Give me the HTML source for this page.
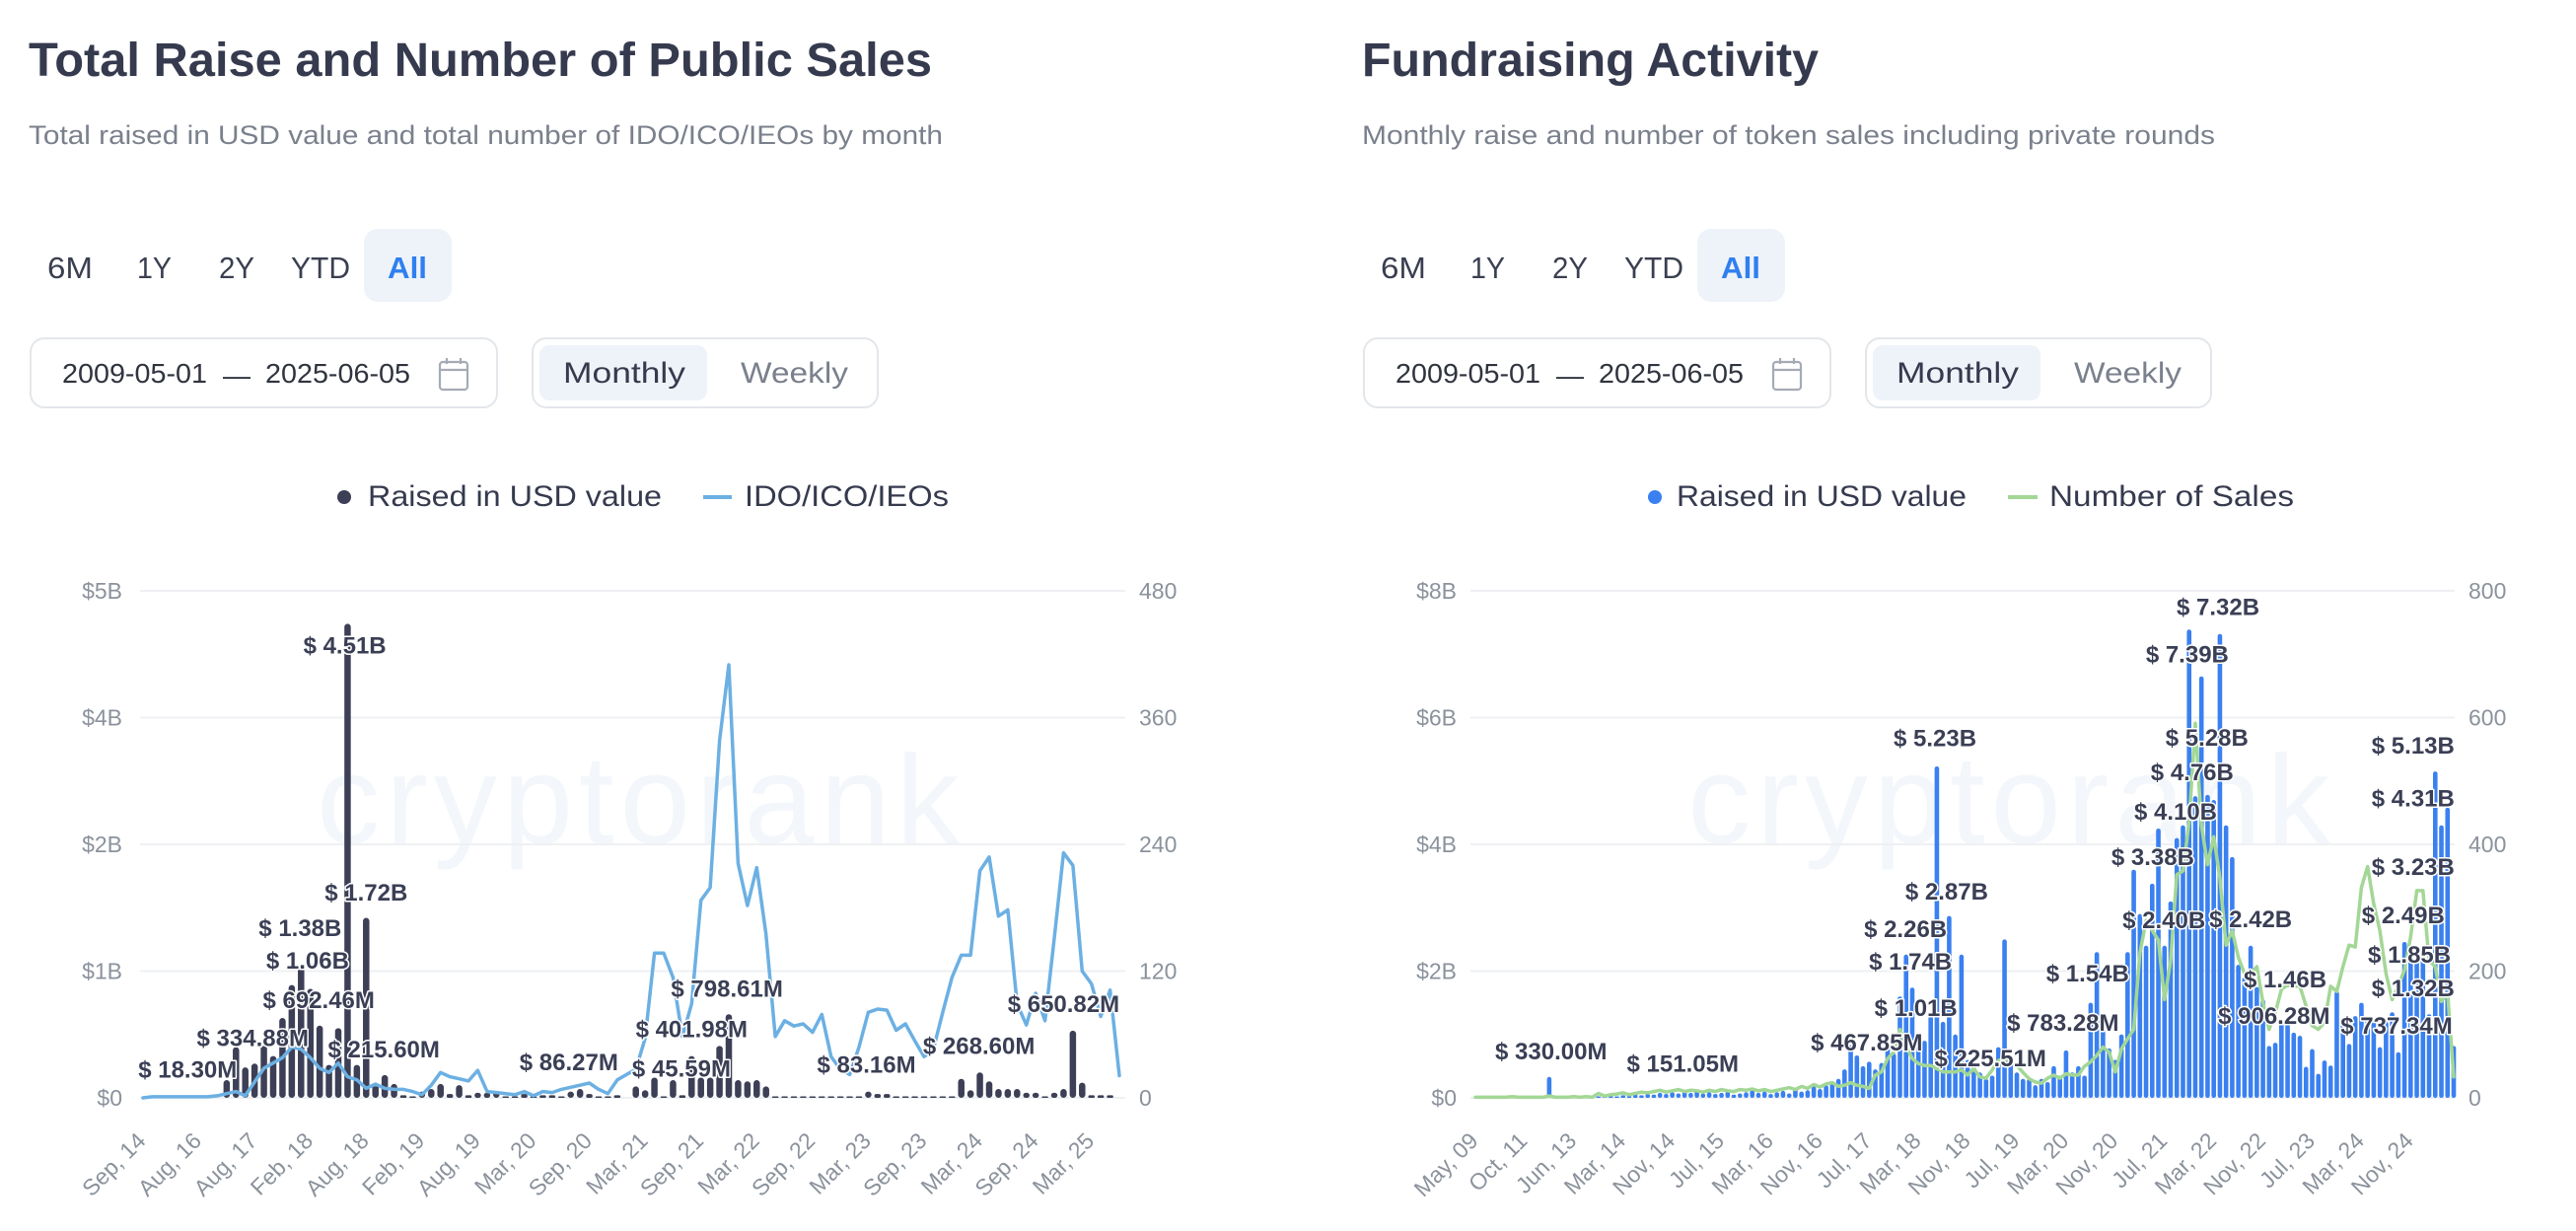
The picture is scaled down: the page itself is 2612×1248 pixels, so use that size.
<!DOCTYPE html>
<html><head><meta charset="utf-8">
<style>
html,body{margin:0;padding:0;background:#fff;}
svg{display:block;font-family:"Liberation Sans",sans-serif;}
</style></head>
<body>
<svg id="root" width="2612" height="1248" viewBox="0 0 2612 1248" xmlns="http://www.w3.org/2000/svg">
<rect x="0" y="0" width="2612" height="1248" fill="#ffffff"/>

<g>
  <text x="29" y="77" font-size="48" font-weight="bold" fill="#363a4e" textLength="916" lengthAdjust="spacingAndGlyphs">Total Raise and Number of Public Sales</text>
  <text x="29" y="146" font-size="27" fill="#7a808c" textLength="927" lengthAdjust="spacingAndGlyphs">Total raised in USD value and total number of IDO/ICO/IEOs by month</text>
  <rect x="369" y="232" width="89" height="74" rx="14" fill="#eef3f9"/>
  <text x="48" y="282" font-size="31" fill="#3a3f50" textLength="46" lengthAdjust="spacingAndGlyphs">6M</text>
  <text x="139" y="282" font-size="31" fill="#3a3f50" textLength="35" lengthAdjust="spacingAndGlyphs">1Y</text>
  <text x="222" y="282" font-size="31" fill="#3a3f50" textLength="36" lengthAdjust="spacingAndGlyphs">2Y</text>
  <text x="295" y="282" font-size="31" fill="#3a3f50" textLength="60" lengthAdjust="spacingAndGlyphs">YTD</text>
  <text x="393" y="282" font-size="31" fill="#2f7ff0" font-weight="bold" textLength="40" lengthAdjust="spacingAndGlyphs">All</text>
  <rect x="31" y="343" width="473" height="70" rx="14" fill="#fff" stroke="#e3e6ea" stroke-width="2"/>
  <text x="63" y="388" font-size="28" fill="#30343f" textLength="147" lengthAdjust="spacingAndGlyphs">2009-05-01</text>
  <text x="226" y="390" font-size="28" fill="#30343f">—</text>
  <text x="269" y="388" font-size="28" fill="#30343f" textLength="147" lengthAdjust="spacingAndGlyphs">2025-06-05</text>
  <g fill="none" stroke="#a5abb5" stroke-width="2.2">
    <rect x="446" y="367" width="28" height="28" rx="3"/>
    <line x1="446" y1="375" x2="474" y2="375"/>
    <line x1="453" y1="363" x2="453" y2="369"/>
    <line x1="467" y1="363" x2="467" y2="369"/>
  </g>
  <rect x="540" y="343" width="350" height="70" rx="14" fill="#fff" stroke="#e3e6ea" stroke-width="2"/>
  <rect x="547" y="350" width="170" height="56" rx="10" fill="#eef3f9"/>
  <text x="571" y="388" font-size="30" fill="#363a4e" textLength="124" lengthAdjust="spacingAndGlyphs">Monthly</text>
  <text x="751" y="388" font-size="30" fill="#7a808c" textLength="109" lengthAdjust="spacingAndGlyphs">Weekly</text>
  <circle cx="349" cy="504" r="7" fill="#3d3f56"/>
  <text x="373" y="513" font-size="30" fill="#363a4e" textLength="298" lengthAdjust="spacingAndGlyphs">Raised in USD value</text>
  <line x1="713" y1="504" x2="742" y2="504" stroke="#6cb0e3" stroke-width="4"/>
  <text x="755" y="513" font-size="30" fill="#363a4e" textLength="207" lengthAdjust="spacingAndGlyphs">IDO/ICO/IEOs</text>
</g>

<g transform="translate(1352,0)">
  <text x="29" y="77" font-size="48" font-weight="bold" fill="#363a4e" textLength="463" lengthAdjust="spacingAndGlyphs">Fundraising Activity</text>
  <text x="29" y="146" font-size="27" fill="#7a808c" textLength="865" lengthAdjust="spacingAndGlyphs">Monthly raise and number of token sales including private rounds</text>
  <rect x="369" y="232" width="89" height="74" rx="14" fill="#eef3f9"/>
  <text x="48" y="282" font-size="31" fill="#3a3f50" textLength="46" lengthAdjust="spacingAndGlyphs">6M</text>
  <text x="139" y="282" font-size="31" fill="#3a3f50" textLength="35" lengthAdjust="spacingAndGlyphs">1Y</text>
  <text x="222" y="282" font-size="31" fill="#3a3f50" textLength="36" lengthAdjust="spacingAndGlyphs">2Y</text>
  <text x="295" y="282" font-size="31" fill="#3a3f50" textLength="60" lengthAdjust="spacingAndGlyphs">YTD</text>
  <text x="393" y="282" font-size="31" fill="#2f7ff0" font-weight="bold" textLength="40" lengthAdjust="spacingAndGlyphs">All</text>
  <rect x="31" y="343" width="473" height="70" rx="14" fill="#fff" stroke="#e3e6ea" stroke-width="2"/>
  <text x="63" y="388" font-size="28" fill="#30343f" textLength="147" lengthAdjust="spacingAndGlyphs">2009-05-01</text>
  <text x="226" y="390" font-size="28" fill="#30343f">—</text>
  <text x="269" y="388" font-size="28" fill="#30343f" textLength="147" lengthAdjust="spacingAndGlyphs">2025-06-05</text>
  <g fill="none" stroke="#a5abb5" stroke-width="2.2">
    <rect x="446" y="367" width="28" height="28" rx="3"/>
    <line x1="446" y1="375" x2="474" y2="375"/>
    <line x1="453" y1="363" x2="453" y2="369"/>
    <line x1="467" y1="363" x2="467" y2="369"/>
  </g>
  <rect x="540" y="343" width="350" height="70" rx="14" fill="#fff" stroke="#e3e6ea" stroke-width="2"/>
  <rect x="547" y="350" width="170" height="56" rx="10" fill="#eef3f9"/>
  <text x="571" y="388" font-size="30" fill="#363a4e" textLength="124" lengthAdjust="spacingAndGlyphs">Monthly</text>
  <text x="751" y="388" font-size="30" fill="#7a808c" textLength="109" lengthAdjust="spacingAndGlyphs">Weekly</text>
  <circle cx="326" cy="504" r="7" fill="#3a80f0"/>
  <text x="348" y="513" font-size="30" fill="#363a4e" textLength="294" lengthAdjust="spacingAndGlyphs">Raised in USD value</text>
  <line x1="684" y1="504" x2="714" y2="504" stroke="#a3d795" stroke-width="4"/>
  <text x="726" y="513" font-size="30" fill="#363a4e" textLength="248" lengthAdjust="spacingAndGlyphs">Number of Sales</text>
</g>

<g id="leftChart"></g>
<g id="rightChart"></g>
</svg>

<script>
function monthsFrom(y, m, n) { // helper for category names only
  const nm = ["Jan","Feb","Mar","Apr","May","Jun","Jul","Aug","Sep","Oct","Nov","Dec"];
  const out = [];
  for (let k = 0; k < n; k++) { const t = m + k; out.push(nm[t % 12] + " " + String((y + Math.floor(t / 12)) % 100).padStart(2, "0")); }
  return out;
}
const leftCategories = ["Sep 14","Nov 14","Feb 15","Jun 15","Oct 15","Mar 16","Aug 16","Oct 16","Dec 16","Feb 17","Apr 17","Jun 17"]
  .concat(monthsFrom(2017, 7, 29)).concat(["Feb 20"]).concat(monthsFrom(2020, 2, 64));
const leftTickLabels = ["Sep, 14","Aug, 16","Aug, 17","Feb, 18","Aug, 18","Feb, 19","Aug, 19","Mar, 20","Sep, 20","Mar, 21","Sep, 21","Mar, 22","Sep, 22","Mar, 23","Sep, 23","Mar, 24","Sep, 24","Mar, 25"];
const leftTickIndex = [0,6,12,18,24,30,36,42,48,54,60,66,72,78,84,90,96,102];
const leftRaised = [0,0,0,0,0,0,0,0,0,
  0.14,0.40,0.24,0.27,0.41,0.33,0.63,0.89,1.04,0.86,0.57,0.26,0.55,4.74,0.26,1.42,
  0.12,0.18,0.11,0.02,0.01,0.05,0.07,0.11,0.03,0.1,0.02,0.04,0.04,0.05,0.01,0.01,0.03,0.01,0.02,0.02,
  0.01,0.05,0.07,0.03,0.01,0.01,0.02,0,0.09,0.06,0.16,0.01,0.14,0.02,0.33,0.16,0.16,0.41,0.66,0.14,0.13,0.14,0.09,
  0.01,0.01,0.01,0.01,0.01,0.01,0.01,0.01,0.01,0.01,
  0.05,0.03,0.03,0.01,0.01,0.01,0.01,0.01,0.01,0.01,
  0.15,0.06,0.2,0.13,0.07,0.07,0.07,0.04,0.04,0.01,0.04,0.07,0.53,0.12,0.02,0.02,0.02,0];
const leftIdo = [0,1,1,1,1,1,1,1,2,4,6,2,15,28,33,38,48,46,38,28,24,33,20,17,9,13,9,8,8,6,3,12,24,20,18,16,26,6,5,4,3,6,2,6,
  5,8,10,12,14,8,4,17,22,27,56,137,137,114,58,89,187,199,338,410,222,182,218,155,58,73,68,70,62,79,39,27,22,48,81,84,83,64,70,54,39,46,81,114,135,135,215,228,172,178,89,69,99,73,151,232,220,120,108,77,102,21];
const leftYTickValues = [0,1,2,4,5];
const leftYTickLabels = ["$0","$1B","$2B","$4B","$5B"];
const leftY2TickValues = [0,120,240,360,480];
const leftLabelText = ["$ 18.30M","$ 334.88M","$ 692.46M","$ 1.06B","$ 1.38B","$ 4.51B","$ 1.72B","$ 215.60M","$ 86.27M","$ 45.59M","$ 401.98M","$ 798.61M","$ 83.16M","$ 268.60M","$ 650.82M"];
const leftLabelAt = [4.8,11.8,18.9,17.7,16.9,21.7,24,25.9,45.8,57.9,59,62.8,77.8,89.9,99];
const leftLabelLevel = [0.22,0.47,0.77,1.08,1.34,4.57,1.62,0.38,0.28,0.23,0.54,0.86,0.26,0.41,0.74];

const rightCategories = ["May 09","Sep 09","Jan 10","May 10","Sep 10","Jan 11","May 11","Aug 11","Oct 11","Jan 12","Apr 12","Jul 12","Sep 12","Nov 12","Jan 13","Apr 13","Jun 13","Jul 13","Aug 13","Sep 13","Oct 13","Nov 13","Dec 13","Feb 14"]
  .concat(monthsFrom(2014, 2, 136));
const rightTickLabels = ["May, 09","Oct, 11","Jun, 13","Mar, 14","Nov, 14","Jul, 15","Mar, 16","Nov, 16","Jul, 17","Mar, 18","Nov, 18","Jul, 19","Mar, 20","Nov, 20","Jul, 21","Mar, 22","Nov, 22","Jul, 23","Mar, 24","Nov, 24"];
const rightTickIndex = [0,8,16,24,32,40,48,56,64,72,80,88,96,104,112,120,128,136,144,152];
const rightRaised = [0,0,0,0,0,0,0.01,0,0,0,0,0,
  0.33,
  0,0.01,0,0,0.01,0,0.01,
  0.02,0.01,0.03,0.02,0.04,0.03,0.05,0.04,0.06,0.05,0.08,0.06,0.09,0.07,0.1,0.08,0.12,0.07,0.09,0.06,0.08,0.1,0.05,0.07,0.09,0.12,0.08,0.1,0.06,0.09,0.11,0.07,0.15,0.1,0.12,0.18,0.14,0.2,0.25,0.3,0.45,0.83,
  0.67,0.5,0.57,0.45,0.55,0.8,0.7,1.6,2.26,1.74,1.0,0.9,1.3,5.23,1.2,2.87,1.0,2.26,0.6,0.5,0.4,0.3,0.35,0.8,2.5,0.6,0.4,0.3,0.3,0.2,0.3,0.25,0.5,0.35,0.75,0.4,0.5,0.35,1.5,2.3,1.1,0.78,0.6,1.0,2.3,3.6,2.9,2.4,3.38,4.25,2.4,3.1,4.1,
  4.3,7.39,4.76,6.65,4.78,4.7,7.32,4.3,3.8,2.1,1.9,2.4,1.75,1.55,0.82,0.87,1.24,1.2,1.03,0.98,0.49,0.77,0.38,0.59,0.51,1.68,1.24,0.85,1.29,1.5,1.24,1.2,0.8,1.2,1.35,0.72,2.46,2.31,2.17,2.35,1.32,5.15,4.3,4.58,0.82];
const rightSales = [1,1,1,1,1,1,2,1,1,1,1,1,3,1,1,1,2,1,2,1,
  7,3,5,6,8,5,7,9,8,10,12,9,11,13,10,12,11,9,12,10,13,11,10,13,12,14,11,13,10,12,14,16,13,18,15,21,17,22,24,18,20,24,
  20,18,15,36,41,62,72,108,82,62,54,51,51,46,41,41,41,44,36,46,33,31,44,59,62,57,51,40,30,25,23,31,36,31,38,36,36,50,57,67,80,72,41,77,93,108,228,280,264,249,155,217,352,358,435,591,430,368,412,347,241,264,222,196,196,207,150,108,134,171,178,176,176,145,114,108,119,176,168,207,241,238,332,365,306,264,196,155,176,202,254,327,327,217,207,152,165,33];
const rightYTickValues = [0,2,4,6,8];
const rightYTickLabels = ["$0","$2B","$4B","$6B","$8B"];
const rightY2TickValues = [0,200,400,600,800];
const rightLabelText = ["$ 330.00M","$ 151.05M","$ 467.85M","$ 5.23B","$ 2.87B","$ 2.26B","$ 1.74B","$ 1.01B","$ 225.51M","$ 783.28M","$ 1.54B","$ 3.38B","$ 2.40B","$ 4.10B","$ 4.76B","$ 5.28B","$ 7.39B","$ 7.32B","$ 2.42B","$ 1.46B","$ 906.28M","$ 737.34M","$ 5.13B","$ 4.31B","$ 3.23B","$ 2.49B","$ 1.85B","$ 1.32B"];
const rightLabelAt = [12.3,33.7,63.6,74.7,76.6,69.9,70.7,71.6,83.7,95.5,99.5,110.1,111.9,113.8,116.5,118.9,115.7,120.7,126.0,131.6,129.8,149.7,152.4,152.4,152.4,150.8,151.8,152.4];
const rightLabelLevel = [0.73,0.54,0.87,5.67,3.25,2.66,2.15,1.42,0.62,1.18,1.96,3.80,2.80,4.51,5.14,5.68,7.0,7.74,2.82,1.87,1.29,1.14,5.56,4.72,3.64,2.88,2.26,1.73];

const NS = "http://www.w3.org/2000/svg";
function mk(parent, tag, attrs, text) {
  const e = document.createElementNS(NS, tag);
  for (const k in attrs) e.setAttribute(k, attrs[k]);
  if (text !== undefined) e.textContent = text;
  parent.appendChild(e);
  return e;
}
const Y0 = 1113, YTOP = 599;

function drawChart(cfg) {
  const g = document.getElementById(cfg.id);
  const n = cfg.categories.length;
  const step = (cfg.xEnd - cfg.xStart) / (n - 1);
  const x = i => cfg.xStart + i * step;
  const yBar = cfg.yBar;
  const yLine = c => Y0 - c / cfg.y2Max * (Y0 - YTOP);

  const wm = mk(g, "text", {x: cfg.wmX, y: 855, "font-size": 128, fill: "#f3f6fa", "text-anchor": "middle", "letter-spacing": "6"}, "cryptorank");
  
  

  cfg.yTickValues.forEach((v, k) => {
    const yy = yBar(v);
    const gl = mk(g, "line", {x1: cfg.gridX1, x2: cfg.gridX2, y1: yy, y2: yy, stroke: "#eef0f3", "stroke-width": 2});
    
    
    const tl = mk(g, "text", {x: cfg.yLabelX, y: yy + 8, "font-size": 23, fill: "#8b929c", "text-anchor": "end"}, cfg.yTickLabels[k]);
    
    
  });
  cfg.y2TickValues.forEach(v => {
    const yy = yLine(v);
    const tl = mk(g, "text", {x: cfg.y2LabelX, y: yy + 8, "font-size": 23, fill: "#8b929c"}, String(v));
    
    
  });

  cfg.bars.forEach((v, i) => {
    if (!(v > 0)) return;
    const top = yBar(v);
    const h = Math.max(Y0 - top, 1.5);
    const r = mk(g, "rect", {x: x(i) - cfg.barW / 2, y: Y0 - h, width: cfg.barW, height: h, rx: Math.min(cfg.barW / 2, h / 2), fill: cfg.barColor});
    
    
  });

  let d = "";
  cfg.line.forEach((c, i) => { d += (i ? "L" : "M") + x(i).toFixed(1) + "," + yLine(c).toFixed(1); });
  const p = mk(g, "path", {d: d, fill: "none", stroke: cfg.lineColor, "stroke-width": 3.5, "stroke-linejoin": "round", "stroke-linecap": "round"});
  
  

  cfg.labelText.forEach((t, k) => {
    const lx = x(cfg.labelAt[k]);
    const ly = yBar(cfg.labelLevel[k]) + 8;
    const lt = mk(g, "text", {x: lx, y: ly, "font-size": 24, "font-weight": "bold", fill: "#3b3f55", stroke: "#ffffff", "stroke-width": 3, "paint-order": "stroke", "stroke-linejoin": "round", "text-anchor": "middle"}, t);
    
    
  });

  cfg.tickIndex.forEach((ti, k) => {
    const tx = x(ti) + 4, ty = 1158;
    const xl = mk(g, "text", {x: tx, y: ty, "font-size": 23, fill: "#8b929c", "text-anchor": "end", transform: "rotate(-45 " + tx + " " + ty + ")"}, cfg.tickLabels[k]);
    
    
  });
}

function leftYBar(v) {
  const vs = leftYTickValues;
  const ys = vs.map((_, k) => Y0 - k * (Y0 - YTOP) / (vs.length - 1));
  if (v <= vs[0]) return ys[0];
  for (let k = 1; k < vs.length; k++) {
    if (v <= vs[k]) return ys[k - 1] + (v - vs[k - 1]) / (vs[k] - vs[k - 1]) * (ys[k] - ys[k - 1]);
  }
  return ys[ys.length - 1] - (v - vs[vs.length - 1]) * (ys[0] - ys[1]);
}
function rightYBar(v) {
  const max = rightYTickValues[rightYTickValues.length - 1];
  return Y0 - v / max * (Y0 - YTOP);
}

drawChart({
  id: "leftChart", categories: leftCategories, xStart: 145, xEnd: 1135,
  gridX1: 142, gridX2: 1141, yLabelX: 124, y2LabelX: 1155, wmX: 650,
  yBar: leftYBar, y2Max: 480,
  yTickValues: leftYTickValues, yTickLabels: leftYTickLabels, y2TickValues: leftY2TickValues,
  bars: leftRaised, barW: 6.5, barColor: "#3d3f56",
  line: leftIdo, lineColor: "#6cb0e3", lineName: "ido-ico-ieos-line",
  labelText: leftLabelText, labelAt: leftLabelAt, labelLevel: leftLabelLevel,
  tickIndex: leftTickIndex, tickLabels: leftTickLabels
});
drawChart({
  id: "rightChart", categories: rightCategories, xStart: 1496, xEnd: 2488,
  gridX1: 1491, gridX2: 2489, yLabelX: 1477, y2LabelX: 2503, wmX: 2040,
  yBar: rightYBar, y2Max: 800,
  yTickValues: rightYTickValues, yTickLabels: rightYTickLabels, y2TickValues: rightY2TickValues,
  bars: rightRaised, barW: 4.6, barColor: "#3a80f0",
  line: rightSales, lineColor: "#a3d795", lineName: "number-of-sales-line",
  labelText: rightLabelText, labelAt: rightLabelAt, labelLevel: rightLabelLevel,
  tickIndex: rightTickIndex, tickLabels: rightTickLabels
});
</script>
</body></html>
